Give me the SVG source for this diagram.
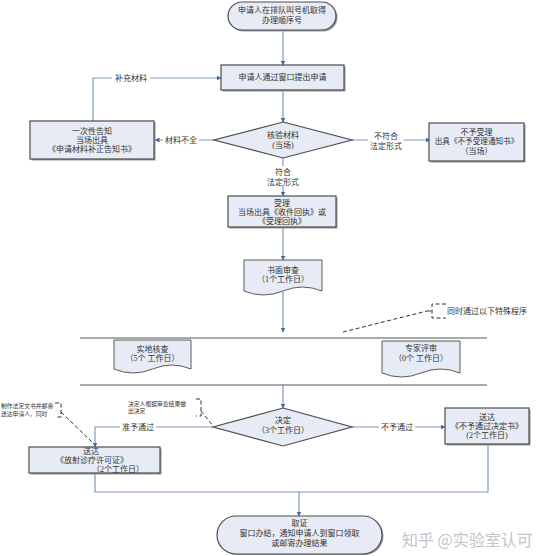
<svg xmlns="http://www.w3.org/2000/svg" width="554" height="556" viewBox="0 0 554 556">
<style>
.bg{fill:#ffffff}
.nd{fill:#e6ebf5;stroke:#4d4d4d;stroke-width:1.2}
.sh{fill:#9a9a9a}
.doc{fill:#e6ebf5;stroke:#5a5a5a;stroke-width:1}
.t{font-family:"Liberation Serif","Noto Sans CJK SC",serif;font-size:8px;fill:#333;text-anchor:middle}
.ts{font-family:"Liberation Serif","Noto Sans CJK SC",serif;font-size:5.8px;fill:#333}
.ln{fill:none;stroke:#7f9abb;stroke-width:1.2}
.ar{fill:none;stroke:#7f9abb;stroke-width:1.2;marker-end:url(#ah)}
.dash{fill:none;stroke:#333;stroke-width:1;stroke-dasharray:4,2.5}
.rule{stroke:#555;stroke-width:1}
.lb{fill:#ffffff}
.wm{font-family:"Noto Sans CJK SC",sans-serif;font-size:16px;fill:#c4c4c4}
</style>
<defs>
<marker id="ah" viewBox="0 0 10 10" refX="9" refY="5" markerWidth="5" markerHeight="5" orient="auto" markerUnits="userSpaceOnUse">
<path d="M0,0 L10,5 L0,10 z" fill="#4a6a9c"/>
</marker>
</defs>
<rect class="bg" x="0" y="0" width="554" height="556"/>

<g id="connectors">
<line class="ar" x1="283" y1="31" x2="283" y2="65"/>
<line class="ar" x1="283" y1="90" x2="283" y2="122"/>
<line class="ar" x1="214" y1="140" x2="155" y2="140"/>
<polyline class="ar" points="93,121 93,78 221,78"/>
<line class="ar" x1="352" y1="140" x2="430" y2="140"/>
<line class="ar" x1="283" y1="158" x2="283" y2="196"/>
<line class="ar" x1="283" y1="227" x2="283" y2="260"/>
<line class="ar" x1="283" y1="292" x2="283" y2="332"/>
<line class="ar" x1="283" y1="385" x2="283" y2="408"/>
<line class="ar" x1="352" y1="427" x2="445" y2="427"/>
<polyline class="ar" points="213,427 95,427 95,447"/>
<polyline class="ln" points="95,473 95,492 488,492 488,444"/>
<line class="ar" x1="299" y1="492" x2="299" y2="516"/>
<rect class="lb" x="112" y="73" width="38" height="10"/>
<text class="t" x="131" y="81">补充材料</text>
<rect class="lb" x="163" y="135" width="36" height="10"/>
<text class="t" x="181" y="143">材料不全</text>
<rect class="lb" x="368" y="130" width="36" height="20"/>
<text class="t" x="386" y="139">不符合</text>
<text class="t" x="386" y="149">法定形式</text>
<rect class="lb" x="265" y="166" width="36" height="20"/>
<text class="t" x="283" y="175">符合</text>
<text class="t" x="283" y="185">法定形式</text>
<rect class="lb" x="379" y="422" width="36" height="10"/>
<text class="t" x="397" y="430">不予通过</text>
<rect class="lb" x="120" y="422" width="36" height="10"/>
<text class="t" x="138" y="430">准予通过</text>
</g>

<g id="rules">
<line class="rule" x1="80" y1="338" x2="487" y2="338"/>
<line class="rule" x1="80" y1="385" x2="487" y2="385"/>
</g>

<g id="n-start">
<rect class="sh" x="229.5" y="3.5" width="108" height="28" rx="14"/>
<rect class="nd" x="228" y="2" width="108" height="28" rx="14"/>
<text class="t" x="282" y="13">申请人在排队叫号机取得</text>
<text class="t" x="282" y="23">办理顺序号</text>
</g>

<g id="n-apply">
<rect class="sh" x="222.5" y="66.5" width="123" height="25"/>
<rect class="nd" x="221" y="65" width="123" height="25"/>
<text class="t" x="282.5" y="80">申请人通过窗口提出申请</text>
</g>

<g id="n-check">
<polygon class="nd" points="283,122 352,140 283,158 214,140"/>
<text class="t" x="283" y="138">核验材料</text>
<text class="t" x="283" y="148">(当场)</text>
</g>

<g id="n-notify">
<rect class="sh" x="31.5" y="122.5" width="124" height="38"/>
<rect class="nd" x="30" y="121" width="124" height="38"/>
<text class="t" x="92" y="134">一次性告知</text>
<text class="t" x="92" y="143">当场出具</text>
<text class="t" x="92" y="152">《申请材料补正告知书》</text>
</g>

<g id="n-reject">
<rect class="sh" x="430.5" y="124.5" width="95" height="38"/>
<rect class="nd" x="429" y="123" width="95" height="38"/>
<text class="t" x="476.5" y="135">不予受理</text>
<text class="t" x="476.5" y="144" style="font-size:7.6px">出具《不予受理通知书》</text>
<text class="t" x="476.5" y="154">（当场）</text>
</g>

<g id="n-accept">
<rect class="sh" x="229.5" y="197.5" width="108" height="31"/>
<rect class="nd" x="228" y="196" width="108" height="31"/>
<text class="t" x="282" y="206">受理</text>
<text class="t" x="282" y="215">当场出具《收件回执》或</text>
<text class="t" x="282" y="224">《受理回执》</text>
</g>

<g id="n-review">
<path class="doc" d="M244,260 H322 V291 Q302.5,283 283,291 T244,291 Z"/>
<text class="t" x="283" y="273">书面审查</text>
<text class="t" x="283" y="282">（1个工作日）</text>
</g>

<g id="n-note-special">
<path class="dash" d="M343,332 L427,311"/>
<path class="dash" d="M446,304 H432 V318 H446"/>
<path class="dash" d="M427,311 H432"/>
<text class="t" x="447" y="314" style="text-anchor:start">同时通过以下特殊程序</text>
</g>

<g id="n-site">
<path class="doc" d="M114,340 H191 V369 Q171.75,361 152.5,369 T114,369 Z"/>
<text class="t" x="152.5" y="352">实地核查</text>
<text class="t" x="152.5" y="361">（5个 工作日）</text>
</g>

<g id="n-expert">
<path class="doc" d="M382,341 H460 V373 Q440.5,365 421,373 T382,373 Z"/>
<text class="t" x="421" y="351">专家评审</text>
<text class="t" x="421" y="361">（0个 工作日）</text>
</g>

<g id="n-decide">
<polygon class="nd" points="283,408 352,427 283,446 213,427"/>
<text class="t" x="283" y="423">决定</text>
<text class="t" x="283" y="433">（3个工作日）</text>
</g>

<g id="n-note-decide">
<path class="dash" d="M201,411 L213,426"/>
<path class="dash" d="M196,399 H201 V416 H196"/>
<text class="ts" x="128" y="406">决定人根据审查结果做</text>
<text class="ts" x="128" y="413">出决定</text>
</g>

<g id="n-note-send">
<path class="dash" d="M61,412 L93,443"/>
<path class="dash" d="M55,403 H61 V417 H55"/>
<text class="ts" x="1" y="408">制作法定文书并邮寄</text>
<text class="ts" x="1" y="416">送达申请人，同时</text>
</g>

<g id="n-refuse">
<rect class="sh" x="446.5" y="409.5" width="84" height="36"/>
<rect class="nd" x="445" y="408" width="84" height="36"/>
<text class="t" x="487" y="420">送达</text>
<text class="t" x="487" y="429">《不予通过决定书》</text>
<text class="t" x="487" y="438">(2个工作日)</text>
</g>

<g id="n-license">
<rect class="sh" x="30.5" y="448.5" width="131" height="26"/>
<rect class="nd" x="29" y="447" width="131" height="26"/>
<text class="t" x="91" y="454">送达</text>
<text class="t" x="92" y="463">《放射诊疗许可证》</text>
<text class="t" x="118" y="472">（2个工作日）</text>
</g>

<g id="n-end">
<rect class="sh" x="218.5" y="517" width="165" height="38" rx="19"/>
<rect class="nd" x="217" y="516" width="165" height="38" rx="19"/>
<text class="t" x="299.5" y="526">取证</text>
<text class="t" x="299.5" y="536">窗口办结，通知申请人到窗口领取</text>
<text class="t" x="299.5" y="546">或邮寄办理结果</text>
</g>

<text class="wm" x="402" y="546">知乎 @实验室认可</text>
</svg>
